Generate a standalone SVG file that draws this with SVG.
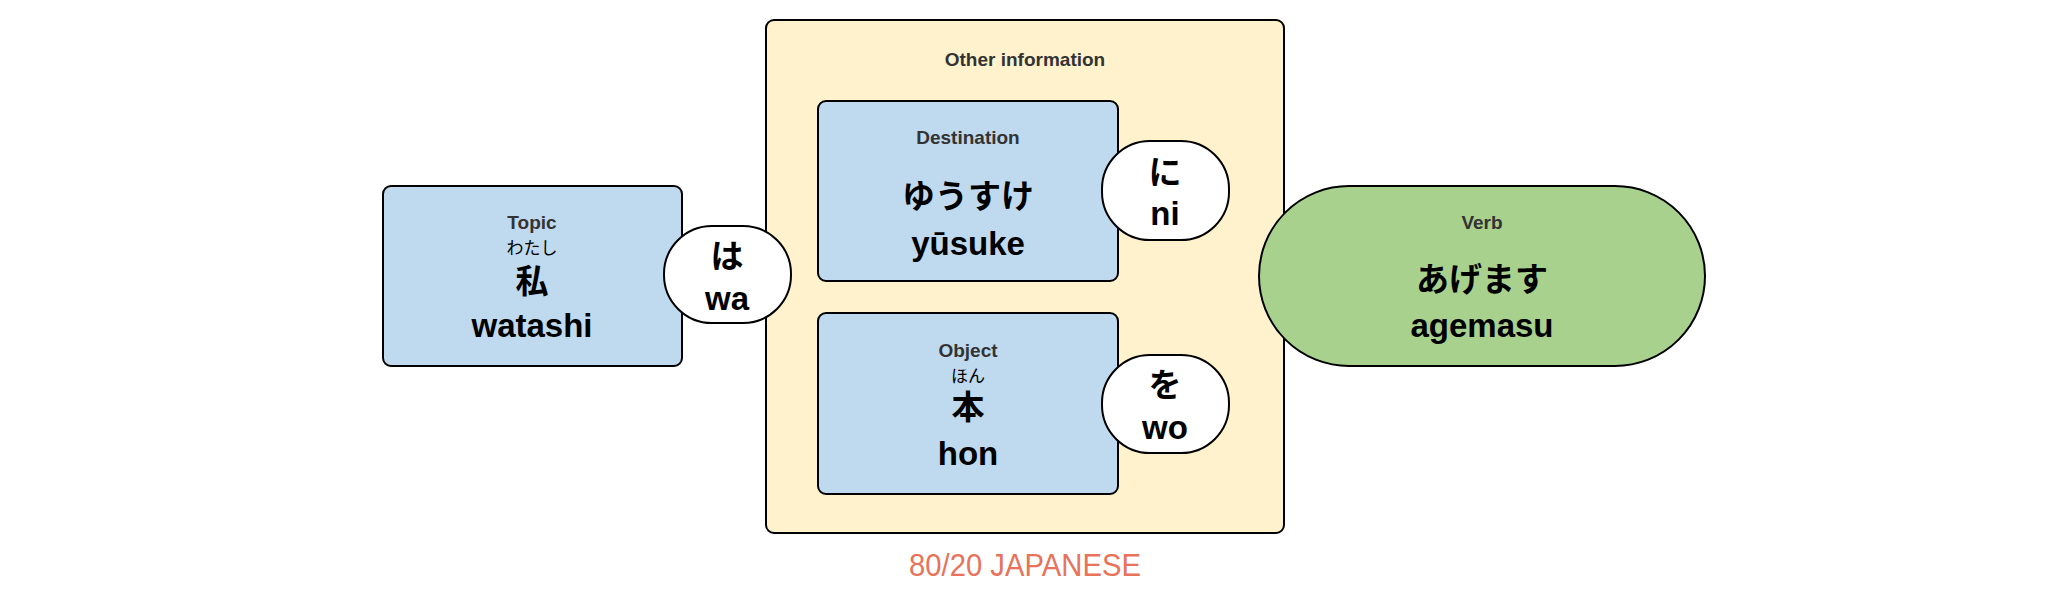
<svg xmlns="http://www.w3.org/2000/svg" width="2048" height="609" viewBox="0 0 2048 609">
<style>
.box{fill:#bfd9ee;stroke:#000;stroke-width:2}
.pill{fill:#fff;stroke:#000;stroke-width:2}
text{font-family:"Liberation Sans","Noto Sans CJK JP",sans-serif;text-anchor:middle;dominant-baseline:central;font-weight:bold}
.lab{font-size:19px;fill:#333}
.big{font-size:33px;fill:#000}
.ruby{font-size:17px;fill:#000;font-weight:normal}
</style>
<rect width="2048" height="609" fill="#fff"/>
<g id="connectors"></g>
<g id="other">
<rect x="766" y="20" width="518" height="513" rx="8" fill="#fff2cc" stroke="#000" stroke-width="2"/>
<text x="1025" y="59" class="lab">Other information</text>
</g>
<g id="topic">
<rect class="box" x="383" y="186" width="299" height="180" rx="8"/>
<text x="532" y="222" class="lab">Topic</text>
<text x="532" y="248" class="ruby">わたし</text>
<text x="532" y="281" class="big">私</text>
<text x="532" y="325" class="big">watashi</text>
</g>
<g id="wa">
<rect class="pill" x="664" y="226" width="127" height="97" rx="48"/>
<text x="727" y="256" class="big">は</text>
<text x="727" y="298" class="big">wa</text>
</g>
<g id="destination">
<rect class="box" x="818" y="101" width="300" height="180" rx="8"/>
<text x="968" y="137" class="lab">Destination</text>
<text x="968" y="196" class="big">ゆうすけ</text>
<text x="968" y="243" class="big">yūsuke</text>
</g>
<g id="ni">
<rect class="pill" x="1102" y="141" width="127" height="99" rx="48"/>
<text x="1165" y="172" class="big">に</text>
<text x="1165" y="213" class="big">ni</text>
</g>
<g id="object">
<rect class="box" x="818" y="313" width="300" height="181" rx="8"/>
<text x="968" y="350" class="lab">Object</text>
<text x="968" y="376" class="ruby">ほん</text>
<text x="968" y="407" class="big">本</text>
<text x="968" y="453" class="big">hon</text>
</g>
<g id="wo">
<rect class="pill" x="1102" y="355" width="127" height="98" rx="48"/>
<text x="1165" y="385" class="big">を</text>
<text x="1165" y="427" class="big">wo</text>
</g>
<g id="verb">
<rect x="1259" y="186" width="446" height="180" rx="90" fill="#a9d18e" stroke="#000" stroke-width="2"/>
<text x="1482" y="222" class="lab">Verb</text>
<text x="1482" y="279" class="big">あげます</text>
<text x="1482" y="325" class="big">agemasu</text>
</g>
<text x="1025" y="565" textLength="232" lengthAdjust="spacingAndGlyphs" style="font-weight:normal;font-size:32px;fill:#e8735a">80/20 JAPANESE</text>
</svg>
